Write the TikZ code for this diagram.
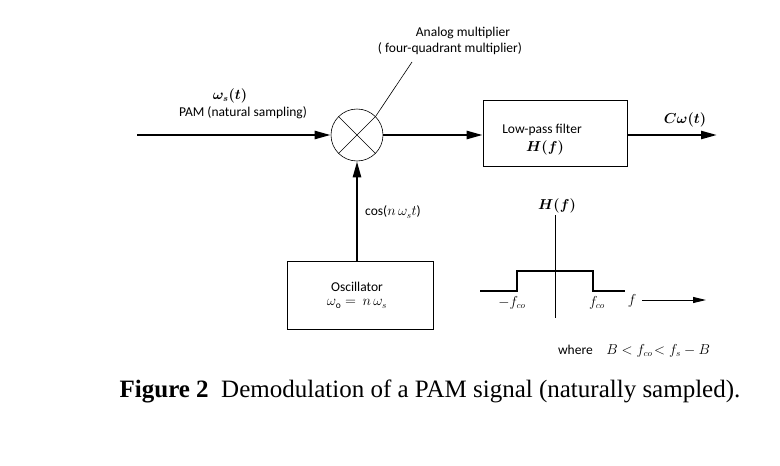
\documentclass[tikz,border=0pt]{standalone}
\usepackage{amsmath,amssymb}
\usepackage{bm}
\usepackage{fontspec}
\setmainfont{Carlito}
\newfontfamily\capfont{Liberation Serif}
\usetikzlibrary{arrows.meta}
\begin{document}
\begin{tikzpicture}[x=1pt,y=1pt,yscale=-1,
  sig/.style={line width=2.4pt,-{Triangle[length=16pt,width=8pt]}},
  blk/.style={draw,line width=0.6pt,minimum width=#1},
  lbl/.style={font=\fontsize{13.5}{16}\selectfont}]
  \useasboundingbox (0,0) rectangle (780,466);
  % blocks
  \node[draw,circle,minimum size=52pt,line width=0.6pt] (mix) at (357,135) {};
  \draw[line width=0.6pt] (mix.north west) -- (mix.south east) (mix.north east) -- (mix.south west);
  \node[blk=144pt,minimum height=66pt] (lpf) at (555,133) {};
  \node[blk=146pt,minimum height=68pt] (osc) at (360,295) {};
  \coordinate (in) at (137,135);
  \coordinate (out) at (717,135);
  % signal arrows
  \draw[sig] (in) -- (mix.west);
  \draw[sig] (mix.east) -- (lpf.west |- mix.east);
  \draw[sig] (lpf.east |- out) -- (out);
  \draw[sig] (osc.north -| mix.south) -- (mix.south);
  \draw[line width=0.6pt] (mix.45) -- (412,62);
  % text
  \node[lbl] (am) at (463,33) {Analog multiplier};
  \node[lbl] (fq) at (450,49) {( four-quadrant multiplier)};
  \node[lbl] (ws) at (230,96) {$\bm{\omega_s(t)}$};
  \node[lbl] (pam) at (243,113) {PAM (natural sampling)};
  \node[lbl] (lpft) at (542,130) {Low-pass filter};
  \node[lbl] (hf) at (545,148) {$\bm{H(f)}$};
  \node[lbl] (cw) at (685,120) {$\bm{C\omega(t)}$};
  \node[lbl] (cos) at (393,212) {cos($n\,\omega_s t$)};
  \node[lbl] (osct) at (357,287) {Oscillator};
  \node[lbl] (oscw) at (357,304) {$\omega_{\mathrm{o}} = \,n\,\omega_s$};
  % filter response
  \coordinate (ax0) at (555,215);
  \coordinate (ax1) at (555,318);
  \draw[line width=0.6pt] (ax0) -- (ax1);
  \node[lbl] (hg) at (557,206) {$\bm{H(f)}$};
  \draw[line width=2.4pt] (480,291) -- (517,291) -- (517,271) -- (593,271) -- (593,291) -- (625,291);
  \node[lbl] (mf) at (512,303) {$-f_{co}$};
  \node[lbl] (pf) at (597,303) {$f_{co}$};
  \node[lbl] (fl) at (632,301) {$f$};
  \coordinate (fa) at (642,300);
  \coordinate (fb) at (706,300);
  \draw[line width=1pt,-{Triangle[length=13pt,width=6pt]}] (fa) -- (fb);
  \node[lbl] (where) at (634,351) {where\quad $B < f_{co}\!< f_s - B$};
  % caption
  \node[font=\capfont\fontsize{25}{28}\selectfont] (cap) at (430,391)
    {\textbf{Figure 2}\ \ Demodulation of a PAM signal (naturally sampled).};
\end{tikzpicture}
\end{document}
